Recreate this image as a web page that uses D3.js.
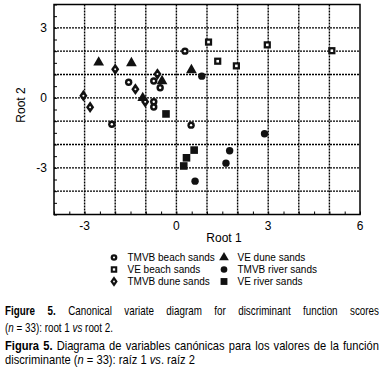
<!DOCTYPE html>
<html>
<head>
<meta charset="utf-8">
<script src="https://cdn.jsdelivr.net/npm/d3@7"></script>
<style>
  body { margin: 0; background: #fff; }
  svg { display: block; font-family: "Liberation Sans", Arial, sans-serif; }
</style>
</head>
<body>
<div id="chart"></div>
<script>
// group data: [root1, root2]
var tmvbBeach = [[0.28, 2.0], [-1.56, 0.67], [-0.74, 0.72], [-0.53, 0.43], [-0.74, -0.17], [-0.74, -0.39], [0.48, -1.17], [-2.11, -1.13]]
var veBeach = [[1.05, 2.39], [1.35, 1.57], [1.96, 1.37], [2.97, 2.27], [5.08, 2.02]]
var tmvbDune = [[-3.04, 0.09], [-2.82, -0.40], [-2.0, 1.22], [-1.34, 0.37], [-0.62, 1.02], [-1.02, -0.17]]
var veDune = [[-2.54, 1.52], [-1.47, 1.49], [0.49, 1.19], [-0.47, 0.72], [-1.10, 0.0]]
var tmvbRiver = [[0.83, 0.93], [2.88, -1.54], [1.74, -2.27], [1.62, -2.80], [0.61, -3.57]]
var veRiver = [[-0.34, -0.69], [0.58, -2.24], [0.33, -2.57], [0.24, -2.92]]

var xTicks = [-3, 0, 3, 6]
var yTicks = [3, 0, -3]

var groups = [
  { name: "TMVB beach sands", pts: tmvbBeach, sym: "ring" },
  { name: "VE beach sands", pts: veBeach, sym: "osquare" },
  { name: "TMVB dune sands", pts: tmvbDune, sym: "odiamond" },
  { name: "VE dune sands", pts: veDune, sym: "triangle" },
  { name: "TMVB river sands", pts: tmvbRiver, sym: "dot" },
  { name: "VE river sands", pts: veRiver, sym: "square" }
]

var W = 382, H = 374
var svg = d3.select("#chart").append("svg").attr("width", W).attr("height", H)

var x = d3.scaleLinear().domain([-4, 6]).range([54, 360])
var y = d3.scaleLinear().domain([-5, 4]).range([214.5, 4.5])

// grid lines, every unit
var g = svg.append("g")
g.selectAll(".vg").data(d3.range(-3, 6)).enter().append("line")
  .attr("x1", d => x(d)).attr("x2", d => x(d))
  .attr("y1", y(4)).attr("y2", y(-5))
  .attr("stroke", "#000").attr("stroke-width", 1.4)
  .attr("stroke-dasharray", "2,1")
g.selectAll(".hg").data(d3.range(-4, 4)).enter().append("line")
  .attr("y1", d => y(d)).attr("y2", d => y(d))
  .attr("x1", x(-4)).attr("x2", x(6))
  .attr("stroke", "#000").attr("stroke-width", 1.4)
  .attr("stroke-dasharray", "2,1")

// frame
svg.append("rect")
  .attr("x", x(-4)).attr("y", y(4))
  .attr("width", x(6) - x(-4)).attr("height", y(-5) - y(4))
  .attr("fill", "none").attr("stroke", "#000").attr("stroke-width", 1.5)

// axes with inner minor ticks
var xAxis = d3.axisBottom(x).tickValues(d3.range(-4, 6.01, 0.5)).tickSize(-3).tickFormat("")
svg.append("g").attr("transform", "translate(0," + y(-5) + ")").call(xAxis)
  .call(a => a.select(".domain").remove())
var yAxis = d3.axisLeft(y).tickValues(d3.range(-5, 4.01, 0.5)).tickSize(-3).tickFormat("")
svg.append("g").attr("transform", "translate(" + x(-4) + ",0)").call(yAxis)
  .call(a => a.select(".domain").remove())

svg.selectAll(".xt").data(xTicks).enter().append("text")
  .attr("x", d => x(d)).attr("y", 230)
  .attr("text-anchor", "middle").attr("font-size", 12)
  .text(d => d)
svg.selectAll(".yt").data(yTicks).enter().append("text")
  .attr("x", 47).attr("y", d => y(d) + 4.5)
  .attr("text-anchor", "end").attr("font-size", 12)
  .text(d => d)

svg.append("text").attr("x", 224).attr("y", 242)
  .attr("text-anchor", "middle").attr("font-size", 12).text("Root  1")
svg.append("text").attr("transform", "translate(25,105) rotate(-90)")
  .attr("text-anchor", "middle").attr("font-size", 12).text("Root  2")

// markers
function drawSym(sel, sym, s) {
  s = s || 1
  if (sym == "ring") {
    sel.append("circle").attr("r", 3.7 * s).attr("fill", "#111")
    sel.append("circle").attr("r", 1.2 * s).attr("fill", "#fff")
  } else if (sym == "dot") {
    sel.append("circle").attr("r", 3.7 * s).attr("fill", "#111")
  } else if (sym == "osquare") {
    sel.append("rect").attr("x", -3.6 * s).attr("y", -3.6 * s).attr("width", 7.2 * s).attr("height", 7.2 * s).attr("fill", "#111")
    sel.append("rect").attr("x", -1.3 * s).attr("y", -1.3 * s).attr("width", 2.6 * s).attr("height", 2.6 * s).attr("fill", "#fff")
  } else if (sym == "square") {
    sel.append("rect").attr("x", -3.8 * s).attr("y", -3.8 * s).attr("width", 7.6 * s).attr("height", 7.6 * s).attr("fill", "#111")
  } else if (sym == "odiamond") {
    sel.append("path").attr("d", d3.symbol(d3.symbolDiamond, 40 * s * s)).attr("fill", "#111")
      .attr("transform", "scale(1.2,1)")
    sel.append("circle").attr("r", 1 * s).attr("fill", "#fff")
  } else if (sym == "triangle") {
    sel.append("path").attr("d", d3.symbol(d3.symbolTriangle, 50 * s * s)).attr("fill", "#111")
  }
}

groups.forEach(function (grp) {
  grp.pts.forEach(function (p) {
    var m = svg.append("g").attr("transform", "translate(" + x(p[0]) + "," + y(p[1]) + ")")
    drawSym(m, grp.sym)
  })
})

// legend
var legendPos = [[114, 257.5], [114, 269.5], [114, 281.5], [224, 257.5], [224, 269.5], [224, 281.5]]
groups.forEach(function (grp, i) {
  var lp = legendPos[i]
  var m = svg.append("g").attr("transform", "translate(" + lp[0] + "," + lp[1] + ")")
  drawSym(m, grp.sym, 0.9)
  svg.append("text").attr("x", lp[0] + 13.5).attr("y", lp[1] + 3.6)
    .attr("font-size", 10).text(grp.name)
})

// caption, horizontally condensed like the original narrow face
function justLine(yy, sx, parts, justify) {
  var cap = svg.append("g").attr("font-size", 12)
    .attr("transform", "translate(5,0) scale(" + sx + ",1)")
  var t = cap.append("text").attr("x", 0).attr("y", yy)
  parts.forEach(function (p) {
    t.append("tspan").attr("font-weight", p.b ? "bold" : null)
      .attr("font-style", p.i ? "italic" : null).text(p.t)
  })
  if (justify) {
    var w = t.node().getComputedTextLength()
    var txt = parts.map(p => p.t).join("")
    var gaps = txt.split(" ").length - 1
    t.attr("word-spacing", ((379 - 5) / sx - w) / gaps)
  }
}
justLine(315.5, 0.82, [{ t: "Figure 5.", b: true }, { t: " Canonical variate diagram for discriminant function scores" }], true)
justLine(332, 0.82, [{ t: "(" }, { t: "n", i: true }, { t: " = 33): root 1 " }, { t: "vs", i: true }, { t: " root 2." }])
justLine(350, 0.93, [{ t: "Figura 5.", b: true }, { t: " Diagrama de variables canónicas para los valores de la función" }], true)
justLine(364, 0.93, [{ t: "discriminante (" }, { t: "n", i: true }, { t: " = 33): raíz 1 " }, { t: "vs", i: true }, { t: ". raíz 2" }])
</script>
</body>
</html>
